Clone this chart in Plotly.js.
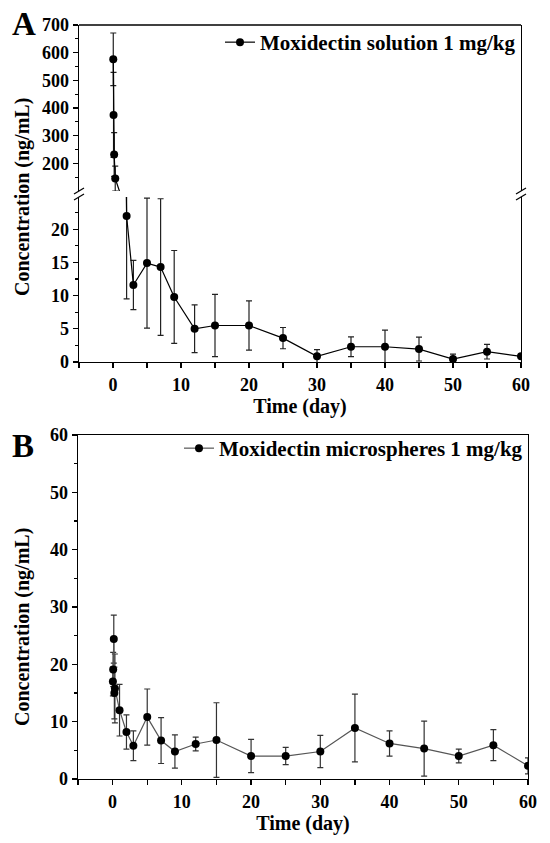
<!DOCTYPE html>
<html>
<head>
<meta charset="utf-8">
<script src="https://cdn.plot.ly/plotly-3.0.1.min.js"></script>
<style>html,body{margin:0;padding:0;background:#fff;}#chart{width:550px;height:843px;}</style>
</head>
<body>
<div id="chart"></div>
<script>
// ---- Data ----
var timeA = [0.04, 0.08, 0.17, 0.33, 2, 3, 5, 7, 9, 12, 15, 20, 25, 30, 35, 40, 45, 50, 55, 60];
var concA = [576, 375, 232, 145, 22.0, 11.6, 14.9, 14.3, 9.8, 5.0, 5.5, 5.5, 3.6, 0.85, 2.3, 2.3, 1.95, 0.45, 1.55, 0.85];
var sdA   = [95, 154, 79, 45, 12.5, 3.7, 9.8, 10.3, 7.0, 3.6, 4.7, 3.7, 1.6, 1.0, 1.5, 2.5, 1.8, 0.75, 1.1, 0.3];

var timeB = [0.04, 0.08, 0.17, 0.25, 0.33, 1, 2, 3, 5, 7, 9, 12, 15, 20, 25, 30, 35, 40, 45, 50, 55, 60];
var concB = [17.0, 19.1, 24.4, 15.0, 15.8, 12.0, 8.2, 5.8, 10.8, 6.7, 4.8, 6.1, 6.8, 4.0, 4.0, 4.8, 8.9, 6.2, 5.3, 4.0, 5.9, 2.3];
var sdB   = [2.5, 3.0, 4.2, 4.5, 6.0, 4.5, 3.0, 2.6, 4.9, 4.0, 2.9, 1.2, 6.5, 2.9, 1.5, 2.8, 5.9, 2.2, 4.8, 1.2, 2.7, 1.4];

var nameA = 'Moxidectin solution 1 mg/kg';
var nameB = 'Moxidectin microspheres 1 mg/kg';
var xTickVals = [0, 10, 20, 30, 40, 50, 60];
var xMinorVals = [-5, 5, 15, 25, 35, 45, 55];
var yLowTicks = [0, 5, 10, 15, 20];
var yLowMinor = [2.5, 7.5, 12.5, 17.5, 22.5];
var yUpTicks = [200, 300, 400, 500, 600, 700];
var yUpMinor = [150, 250, 350, 450, 550, 650];
var yBTicks = [0, 10, 20, 30, 40, 50, 60];
var yBMinor = [5, 15, 25, 35, 45, 55];

// ---- Layout helpers (pixel -> paper) ----
var W = 550, H = 843;
function px(x){ return x / W; }
function py(y){ return 1 - y / H; }

var FONT = 'Liberation Serif, Times New Roman, serif';
var tickFont = {family: FONT, size: 18, color: '#000', weight: 'bold'};
var titleFont = {family: FONT, size: 20, color: '#000', weight: 'bold'};

function errA(){ return {type:'data', array: sdA, visible:true, color:'#222', thickness:1.2, width:3}; }

var traces = [
  {x: timeA, y: concA, xaxis:'x', yaxis:'y', type:'scatter', mode:'lines+markers', name: nameA,
   line:{color:'#000', width:1.2}, marker:{color:'#000', size:8, symbol:'circle'},
   error_y: errA(), legend:'legend', showlegend:true},
  {x: timeA, y: concA, xaxis:'x', yaxis:'y2', type:'scatter', mode:'lines+markers', name: nameA,
   line:{color:'#000', width:1.2}, marker:{color:'#000', size:8, symbol:'circle'},
   error_y: errA(), showlegend:false},
  {x: timeB, y: concB, xaxis:'x2', yaxis:'y3', type:'scatter', mode:'lines+markers', name: nameB,
   line:{color:'#555', width:1.2}, marker:{color:'#000', size:8, symbol:'circle'},
   error_y: {type:'data', array: sdB, visible:true, color:'#333', thickness:1.2, width:3},
   legend:'legend2', showlegend:true}
];

function xAxis(anchor, dom, mirror){
  return {
    domain: dom, anchor: anchor, range: [-5, 60],
    tickmode:'array', tickvals: xTickVals, ticks:'outside', ticklen:5, tickwidth:1.2, tickcolor:'#000',
    minor:{tickmode:'array', tickvals: xMinorVals, ticks:'outside', ticklen:5, tickwidth:1.2, tickcolor:'#000'},
    showline:true, linecolor:'#000', linewidth:1.3, mirror: mirror,
    showgrid:false, zeroline:false, tickfont: tickFont, ticklabelstandoff: 1
  };
}
function yAxis(anchor, dom, range, tv, mv){
  return {
    domain: dom, anchor: anchor, range: range,
    tickmode:'array', tickvals: tv, ticks:'outside', ticklen:5, tickwidth:1.2, tickcolor:'#000',
    minor:{tickmode:'array', tickvals: mv, ticks:'outside', ticklen:3, tickwidth:1.2, tickcolor:'#000'},
    showline:true, linecolor:'#000', linewidth:1.3, mirror:true,
    showgrid:false, zeroline:false, tickfont: tickFont
  };
}

var domXA = [px(79), px(521)];
var domXB = [px(78), px(528)];

var layout = {
  width: W, height: H,
  margin: {l:0, r:0, t:0, b:0},
  paper_bgcolor:'#fff', plot_bgcolor:'rgba(0,0,0,0)',
  showlegend: true,
  xaxis: Object.assign(xAxis('y', domXA, false), {title:{text:'Time (day)', font: titleFont, standoff: 0}}),
  yaxis: yAxis('x', [py(362), py(197)], [0, 24.86], yLowTicks, yLowMinor),
  yaxis2: yAxis('x', [py(191), py(25)], [100, 700], yUpTicks, yUpMinor),
  xaxis2: Object.assign(xAxis('y3', domXB, true), {title:{text:'Time (day)', font: titleFont, standoff: 0}}),
  yaxis3: yAxis('x2', [py(779), py(435)], [0, 60], yBTicks, yBMinor),
  legend: {x: px(521), xanchor:'right', y: py(22), yanchor:'top', bgcolor:'rgba(0,0,0,0)', borderwidth:0,
           font:{family: FONT, size: 21, color:'#000', weight:'bold'}},
  legend2: {x: px(528), xanchor:'right', y: py(428), yanchor:'top', bgcolor:'rgba(0,0,0,0)', borderwidth:0,
           font:{family: FONT, size: 21, color:'#000', weight:'bold'}},
  annotations: [
    {text:'A', xref:'paper', yref:'paper', x: px(10), y: py(4), xanchor:'left', yanchor:'top', showarrow:false,
     font:{family: FONT, size: 33, color:'#000', weight:'bold'}},
    {text:'B', xref:'paper', yref:'paper', x: px(10), y: py(426), xanchor:'left', yanchor:'top', showarrow:false,
     font:{family: FONT, size: 33, color:'#000', weight:'bold'}},
    {text:'Concentration (ng/mL)', xref:'paper', yref:'paper', x: px(22), y: py(197), textangle:-90,
     xanchor:'center', yanchor:'middle', showarrow:false, font: titleFont},
    {text:'Concentration (ng/mL)', xref:'paper', yref:'paper', x: px(22), y: py(627), textangle:-90,
     xanchor:'center', yanchor:'middle', showarrow:false, font: titleFont}
  ],
  shapes: [
    // top border of panel A
    {type:'line', xref:'paper', yref:'paper', x0: px(79), x1: px(521), y0: py(25), y1: py(25), line:{color:'#000', width:1.3}},
    // axis-break marks (left)
    {type:'line', xref:'paper', yref:'paper', x0: px(74), x1: px(84), y0: py(194), y1: py(188), line:{color:'#000', width:1.2}},
    {type:'line', xref:'paper', yref:'paper', x0: px(74), x1: px(84), y0: py(200), y1: py(194), line:{color:'#000', width:1.2}},
    // axis-break marks (right)
    {type:'line', xref:'paper', yref:'paper', x0: px(516), x1: px(526), y0: py(194), y1: py(188), line:{color:'#000', width:1.2}},
    {type:'line', xref:'paper', yref:'paper', x0: px(516), x1: px(526), y0: py(200), y1: py(194), line:{color:'#000', width:1.2}}
  ]
};

Plotly.newPlot('chart', traces, layout, {displayModeBar:false, staticPlot:true});
</script>
</body>
</html>
